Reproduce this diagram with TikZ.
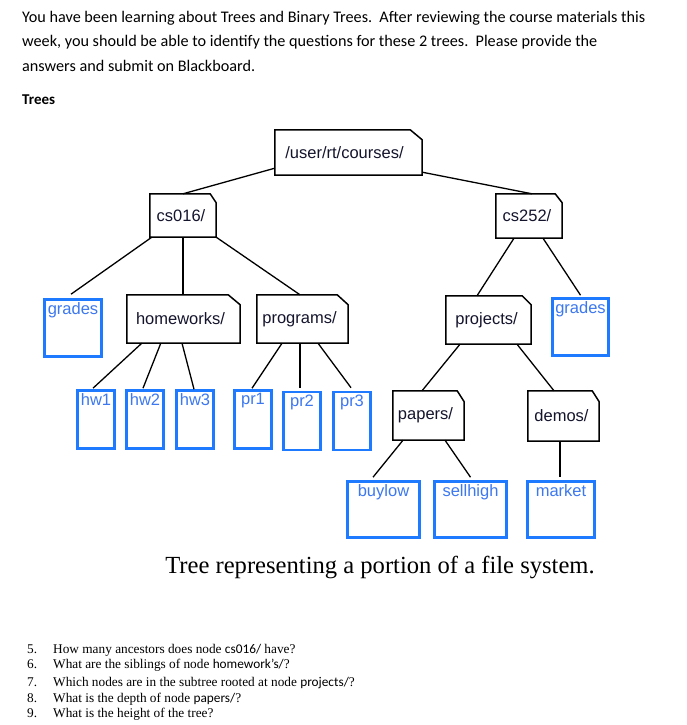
\documentclass[tikz,border=0pt]{standalone}
\usepackage{fontspec}
\setmainfont{Liberation Serif}
\newfontfamily\boxfont{Liberation Sans}
\newfontfamily\headfont{Carlito}
\definecolor{leafblue}{RGB}{30,122,255}
\definecolor{leaftxt}{RGB}{60,120,240}
\definecolor{foldtxt}{RGB}{20,20,45}
\begin{document}
\begin{tikzpicture}[x=1pt,y=-1pt,
  folder/.style={rectangle, inner sep=0pt, font=\boxfont\fontsize{16.5}{18}\selectfont, text=foldtxt},
  leaf/.style={rectangle, draw=leafblue, line width=2.6pt, inner sep=0pt},
  leaftext/.style={anchor=north, inner sep=0pt, yshift=-4pt, font=\boxfont\fontsize{16.5}{18}\selectfont, text=leaftxt},
  edge/.style={draw=black, line width=1.3pt},
  outline/.style={draw=black, line width=1.5pt, line join=miter},
  head/.style={anchor=base west, inner sep=0pt, font=\headfont\fontsize{16.2}{19}\selectfont},
  quest/.style={anchor=base west, inner sep=0pt, font=\fontsize{13.3}{15}\selectfont},
]
\useasboundingbox (0,0) rectangle (686,725);
\fill[white] (0,0) rectangle (686,725);

% header text
\node[head] (h1) at (22,23) {You have been learning about Trees and Binary Trees.\ \ After reviewing the course materials this};
\node[head] (h2) at (22,47) {week, you should be able to identify the questions for these 2 trees.\ \ Please provide the};
\node[head] (h3) at (22,71) {answers and submit on Blackboard.};
\node[head, font=\headfont\bfseries\fontsize{15}{17}\selectfont] (h4) at (22,104) {Trees};

% folder nodes
\node[folder, minimum width=147, minimum height=45] (root) at (348.5,152.5) {\hspace*{-8pt}/user/rt/courses/};
\node[folder, minimum width=66, minimum height=43] (cs016) at (183,215.5) {\hspace*{-4pt}cs016/};
\node[folder, minimum width=66, minimum height=44] (cs252) at (529,216) {\hspace*{-4pt}cs252/};
\node[folder, minimum width=113, minimum height=48] (homeworks) at (183.5,319) {\hspace*{-6pt}homeworks/};
\node[folder, minimum width=91, minimum height=48] (programs) at (302.5,319) {\hspace*{-6pt}programs/};
\node[folder, minimum width=85, minimum height=48] (projects) at (488.5,320) {\hspace*{-4pt}projects/};
\node[folder, minimum width=71, minimum height=49] (papers) at (428.5,415.5) {\hspace*{-6pt}papers/};
\node[folder, minimum width=71, minimum height=50] (demos) at (563.5,416) {\hspace*{-4pt}demos/};

\foreach \n/\cx/\cy in {root/12/10, cs016/6/9, cs252/7/9, homeworks/12/10, programs/11/10, projects/9/9, papers/7/11, demos/7/11}{
  \draw[outline] (\n.south west) -- (\n.north west) -- ([xshift=-\cx]\n.north east) -- ([yshift=-\cy]\n.north east) -- (\n.south east) -- cycle;
}

% leaf nodes
\node[leaf, minimum width=57, minimum height=57, label={[leaftext]north:grades}] (gradesL) at (73,328) {};
\node[leaf, minimum width=56, minimum height=57, label={[leaftext]north:grades}] (gradesR) at (580.5,327) {};
\node[leaf, minimum width=37, minimum height=58, label={[leaftext]north:hw1}] (hw1) at (96,419.5) {};
\node[leaf, minimum width=37, minimum height=58, label={[leaftext]north:hw2}] (hw2) at (145,419.5) {};
\node[leaf, minimum width=37, minimum height=58, label={[leaftext]north:hw3}] (hw3) at (195,419.5) {};
\node[leaf, minimum width=37, minimum height=58, label={[leaftext]north:pr1}] (pr1) at (253,419.5) {};
\node[leaf, minimum width=37, minimum height=58, label={[leaftext]north:pr2}] (pr2) at (302,421) {};
\node[leaf, minimum width=37, minimum height=58, label={[leaftext]north:pr3}] (pr3) at (352,421) {};
\node[leaf, minimum width=72, minimum height=56, label={[leaftext]north:buylow}] (buylow) at (383.5,509.5) {};
\node[leaf, minimum width=72, minimum height=56, label={[leaftext]north:sellhigh}] (sellhigh) at (470.5,509.5) {};
\node[leaf, minimum width=67, minimum height=56, label={[leaftext]north:market}] (market) at (561,509.5) {};

% edges
\draw[edge] ([yshift=7]root.south west) -- (cs016.north);
\draw[edge] ([yshift=3]root.south east) -- ([xshift=3]cs252.north);
\draw[edge] ([xshift=2]cs016.south west) -- ([xshift=-2,yshift=4]gradesL.north);
\draw[edge] (cs016.south) -- ([xshift=-0.5]homeworks.north);
\draw[edge] (cs016.south east) -- ([xshift=-2.5]programs.north);
\draw[edge] ([xshift=15]homeworks.south west) -- ([xshift=-3,yshift=1]hw1.north);
\draw[edge] ([xshift=34]homeworks.south west) -- ([xshift=-2,yshift=1]hw2.north);
\draw[edge] ([xshift=-1.5]homeworks.south) -- ([xshift=-1]hw3.north);
\draw[edge] ([xshift=-20.5]programs.south) -- ([xshift=-1,yshift=1]pr1.north);
\draw[edge] ([xshift=-2.5]programs.south) -- ([xshift=-2,yshift=3]pr2.north);
\draw[edge] ([xshift=15.5]programs.south) -- ([xshift=-1,yshift=3]pr3.north);
\draw[edge] ([xshift=-15]cs252.south) -- ([xshift=-11.5]projects.north);
\draw[edge] ([xshift=14]cs252.south) -- ([yshift=2]gradesR.north);
\draw[edge] ([xshift=-28.5]projects.south) -- ([xshift=-6.5]papers.north);
\draw[edge] ([xshift=28.5]projects.south) -- ([xshift=-9.5]demos.north);
\draw[edge] ([xshift=-25.5]papers.south) -- ([xshift=-10.5,yshift=3]buylow.north);
\draw[edge] ([xshift=16.5]papers.south) -- ([yshift=3]sellhigh.north);
\draw[edge, line width=2.3pt] ([xshift=-3.5]demos.south) -- ([xshift=-1,yshift=3]market.north);

% caption
\node[anchor=base, inner sep=0pt, font=\fontsize{24.6}{28}\selectfont] (cap) at (380,573) {Tree representing a portion of a file system.};

% questions
\node[quest] (n5) at (27,653) {5.};
\node[quest] (q5) at (53,653) {How many ancestors does node {\headfont cs016/} have?};
\node[quest] (n6) at (27,668) {6.};
\node[quest] (q6) at (53,668) {What are the siblings of node {\headfont homework’s/}?};
\node[quest] (n7) at (27,686) {7.};
\node[quest] (q7) at (53,686) {Which nodes are in the subtree rooted at node {\headfont projects/}?};
\node[quest] (n8) at (27,702) {8.};
\node[quest] (q8) at (53,702) {What is the depth of node {\headfont papers/}?};
\node[quest] (n9) at (27,717) {9.};
\node[quest] (q9) at (53,717) {What is the height of the tree?};
\end{tikzpicture}
\end{document}
